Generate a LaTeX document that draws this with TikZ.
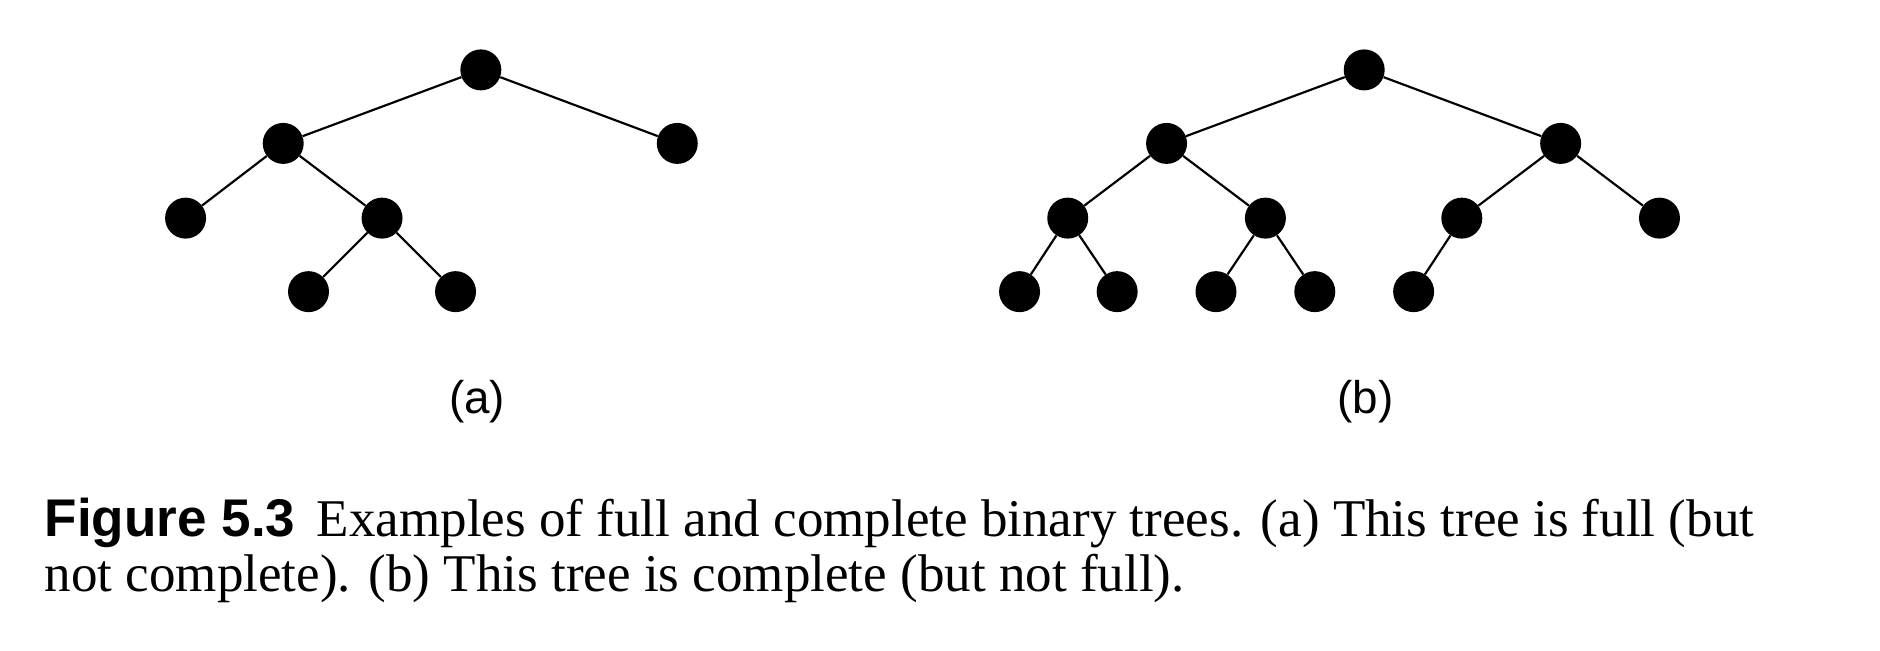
\documentclass[tikz,border=0pt]{standalone}
\usepackage{fontspec}
\setmainfont{Liberation Serif}
\newfontfamily\hv{Liberation Sans}
\begin{document}
\begin{tikzpicture}[x=1pt,y=-1pt,
  nd/.style={circle,fill=black,inner sep=0pt,minimum size=34pt},
  ed/.style={line width=1.8pt}]
\useasboundingbox (0,0) rectangle (1560,540);
% tree a
\node[nd] (a0) at (399,58) {};
\node[nd] (a1) at (235,119) {};
\node[nd] (a2) at (562,119) {};
\node[nd] (a3) at (154,181) {};
\node[nd] (a4) at (317,181) {};
\node[nd] (a5) at (256,242) {};
\node[nd] (a6) at (378,242) {};
\draw[ed] (a0)--(a1) (a0)--(a2) (a1)--(a3) (a1)--(a4) (a4)--(a5) (a4)--(a6);
% tree b
\node[nd] (b0) at (1132,58) {};
\node[nd] (b1) at (968,119) {};
\node[nd] (b2) at (1295,119) {};
\node[nd] (b3) at (886,181) {};
\node[nd] (b4) at (1050,181) {};
\node[nd] (b5) at (1213,181) {};
\node[nd] (b6) at (1377,181) {};
\node[nd] (b7) at (846,242) {};
\node[nd] (b8) at (927,242) {};
\node[nd] (b9) at (1009,242) {};
\node[nd] (b10) at (1091,242) {};
\node[nd] (b11) at (1173,242) {};
\draw[ed] (b0)--(b1) (b0)--(b2) (b1)--(b3) (b1)--(b4) (b2)--(b5) (b2)--(b6)
  (b3)--(b7) (b3)--(b8) (b4)--(b9) (b4)--(b10) (b5)--(b11);
\node[font=\hv\fontsize{38}{44}\selectfont] (la) at (396,333) {(a)};
\node[font=\hv\fontsize{38}{44}\selectfont] (lb) at (1133,333) {(b)};
\node[anchor=base west,inner sep=0pt,font=\fontsize{44}{50}\selectfont] (c1) at (37,445)
  {{\hv\bfseries Figure 5.3}\hspace{18pt}Examples of full and complete binary trees. (a) This tree is full (but};
\node[anchor=base west,inner sep=0pt,font=\fontsize{44}{50}\selectfont] (c2) at (37,491)
  {not complete). (b) This tree is complete (but not full).};
\end{tikzpicture}
\end{document}
